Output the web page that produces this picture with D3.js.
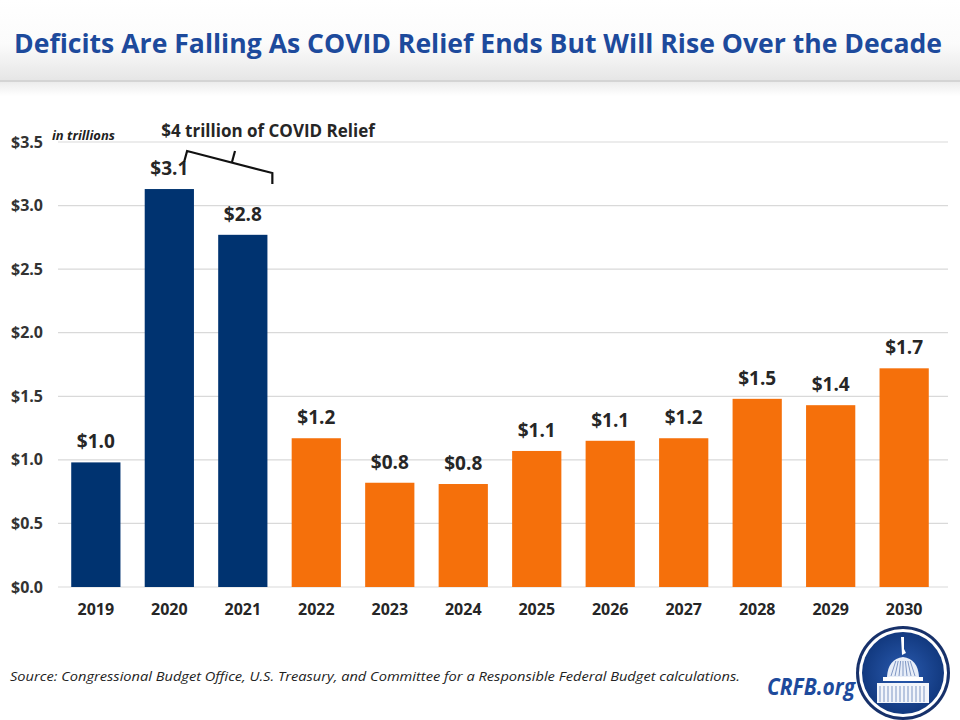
<!DOCTYPE html>
<html>
<head>
<meta charset="utf-8">
<script src="https://cdn.jsdelivr.net/npm/d3@7"></script>
<style>
  body { margin: 0; background: #fff; }
  svg { display: block; font-family: "Open Sans", "Noto Sans", sans-serif; }
</style>
</head>
<body>
<svg id="chart" width="960" height="720"></svg>
<script>
// chart data
var years = ["2019", "2020", "2021", "2022", "2023", "2024", "2025", "2026", "2027", "2028", "2029", "2030"];
var deficits = [0.98, 3.13, 2.77, 1.17, 0.82, 0.81, 1.07, 1.15, 1.17, 1.48, 1.43, 1.72];
var valueLabels = ["$1.0", "$3.1", "$2.8", "$1.2", "$0.8", "$0.8", "$1.1", "$1.1", "$1.2", "$1.5", "$1.4", "$1.7"];
var covidYears = ["2019", "2020", "2021"];
var yTicks = [0, 0.5, 1, 1.5, 2, 2.5, 3, 3.5];

var svg = d3.select("#chart");
var defs = svg.append("defs");

/*
 *** header band with a soft grey gradient
 */
var hg = defs.append("linearGradient").attr("id", "headGrad").attr("x1", 0).attr("y1", 0).attr("x2", 0).attr("y2", 1);
hg.append("stop").attr("offset", "0%").attr("stop-color", "#ffffff");
hg.append("stop").attr("offset", "55%").attr("stop-color", "#fbfbfb");
hg.append("stop").attr("offset", "100%").attr("stop-color", "#e6e6e6");
var sg = defs.append("linearGradient").attr("id", "shadowGrad").attr("x1", 0).attr("y1", 0).attr("x2", 0).attr("y2", 1);
sg.append("stop").attr("offset", "0%").attr("stop-color", "#ececec");
sg.append("stop").attr("offset", "100%").attr("stop-color", "#ffffff");

svg.append("rect").attr("x", 0).attr("y", 0).attr("width", 960).attr("height", 80).attr("fill", "url(#headGrad)");
svg.append("rect").attr("x", 0).attr("y", 80).attr("width", 960).attr("height", 2).attr("fill", "#d4d4d4");
svg.append("rect").attr("x", 0).attr("y", 82).attr("width", 960).attr("height", 14).attr("fill", "url(#shadowGrad)");

svg.append("text")
    .attr("x", 478).attr("y", 53)
    .attr("text-anchor", "middle")
    .attr("font-size", 27).attr("font-weight", "bold")
    .attr("fill", "#1d4a9c")
    .attr("textLength", 928).attr("lengthAdjust", "spacingAndGlyphs")
    .text("Deficits Are Falling As COVID Relief Ends But Will Rise Over the Decade");

/*
 *** scales and axes
 */
var x = d3.scaleBand().domain(years).range([58, 942]).paddingInner(0.33).paddingOuter(0.18);
var y = d3.scaleLinear().domain([0, 3.5]).range([587, 142]);

var grid = svg.append("g");
grid.selectAll("line").data(yTicks).enter().append("line")
    .attr("x1", 58).attr("x2", 948)
    .attr("y1", function(d){ return y(d); })
    .attr("y2", function(d){ return y(d); })
    .attr("stroke", "#d9d9d9").attr("stroke-width", 1.2);

var yAxis = svg.append("g")
    .attr("transform", "translate(48,0)")
    .call(d3.axisLeft(y).tickValues(yTicks).tickSize(0).tickPadding(5)
        .tickFormat(function(d){ return "$" + d3.format(".1f")(d); }));
yAxis.select(".domain").remove();
yAxis.selectAll("text")
    .attr("font-family", "'Open Sans', sans-serif")
    .attr("font-size", 16).attr("font-weight", "bold").attr("fill", "#333");

var xAxis = svg.append("g")
    .attr("transform", "translate(0,587)")
    .call(d3.axisBottom(x).tickSize(0).tickPadding(17));
xAxis.select(".domain").remove();
xAxis.selectAll("text")
    .attr("font-family", "'Open Sans', sans-serif")
    .attr("font-size", 16).attr("font-weight", "bold").attr("fill", "#262626");

/*
 *** bars and value labels
 */
var rows = years.map(function(yr, i){ return {year: yr, value: deficits[i], label: valueLabels[i]}; });

svg.append("g").selectAll("rect").data(rows).enter().append("rect")
    .attr("x", function(d){ return x(d.year); })
    .attr("width", x.bandwidth())
    .attr("y", function(d){ return y(d.value); })
    .attr("height", function(d){ return y(0) - y(d.value); })
    .attr("fill", function(d){ return covidYears.indexOf(d.year) >= 0 ? "#003370" : "#f5700b"; });

svg.append("g").selectAll("text").data(rows).enter().append("text")
    .attr("x", function(d){ return x(d.year) + x.bandwidth()/2; })
    .attr("y", function(d){ return y(d.value) - 14; })
    .attr("text-anchor", "middle")
    .attr("font-size", 19).attr("font-weight", "bold").attr("fill", "#262626")
    .text(function(d){ return d.label; });

svg.append("text")
    .attr("x", 52).attr("y", 140)
    .attr("font-size", 13).attr("font-style", "italic").attr("font-weight", "bold").attr("fill", "#222")
    .text("in trillions");

/*
 *** COVID relief bracket
 */
var bx0 = x("2020") + x.bandwidth()*0.8, bx1 = x("2021") + x.bandwidth()*1.1;
svg.append("path")
    .attr("d", "M" + bx0 + "," + 162 + "L" + (bx0+3) + "," + 151 + "L" + bx1 + "," + 173 + "L" + bx1 + "," + 184)
    .attr("fill", "none").attr("stroke", "#111").attr("stroke-width", 2.2);
svg.append("path")
    .attr("d", "M" + 232 + "," + 162 + "L" + 235 + "," + 151)
    .attr("fill", "none").attr("stroke", "#111").attr("stroke-width", 2.2);

svg.append("text")
    .attr("x", 268).attr("y", 137)
    .attr("text-anchor", "middle")
    .attr("font-size", 17).attr("font-weight", "bold").attr("fill", "#262626")
    .text("$4 trillion  of COVID Relief");

/*
 *** footer: source, site name and logo
 */
svg.append("text")
    .attr("x", 10).attr("y", 681)
    .attr("font-size", 13).attr("font-style", "italic").attr("fill", "#222")
    .attr("textLength", 730).attr("lengthAdjust", "spacingAndGlyphs")
    .text("Source: Congressional Budget Office, U.S. Treasury, and Committee for a Responsible Federal Budget calculations.");

svg.append("text")
    .attr("x", 767).attr("y", 695)
    .attr("font-size", 24).attr("font-style", "italic").attr("font-weight", "bold").attr("fill", "#1d4a9c")
    .attr("textLength", 88).attr("lengthAdjust", "spacingAndGlyphs")
    .text("CRFB.org");

var lg = defs.append("radialGradient").attr("id", "logoGrad");
lg.append("stop").attr("offset", "0%").attr("stop-color", "#2a5bb0");
lg.append("stop").attr("offset", "100%").attr("stop-color", "#12397f");

var logo = svg.append("g").attr("transform", "translate(903,673)");
logo.append("circle").attr("r", 47).attr("fill", "#17316a");
logo.append("circle").attr("r", 44).attr("fill", "#ffffff");
logo.append("circle").attr("r", 41).attr("fill", "url(#logoGrad)");
// simplified capitol dome
logo.append("path").attr("d", "M-2,-36 L1,-36 L1,-24 L3,-20 L-1,-18 Z").attr("fill", "#fff");
logo.append("path").attr("d", "M-16,4 Q-15,-14 0,-16 Q15,-14 16,4 Z").attr("fill", "#e8eef8");
logo.append("rect").attr("x", -20).attr("y", 4).attr("width", 40).attr("height", 4).attr("fill", "#fff");
logo.append("rect").attr("x", -26).attr("y", 10).attr("width", 52).attr("height", 20).attr("fill", "#f2f5fb");
var cols = d3.range(-23, 24, 4);
logo.selectAll(".col").data(cols).enter().append("line")
    .attr("x1", function(d){ return d; }).attr("x2", function(d){ return d; })
    .attr("y1", 13).attr("y2", 29)
    .attr("stroke", "#7f97c4").attr("stroke-width", 1);
logo.selectAll(".rib").data(d3.range(-12, 13, 4)).enter().append("line")
    .attr("x1", function(d){ return d; }).attr("x2", function(d){ return d*0.6; })
    .attr("y1", 3).attr("y2", -12)
    .attr("stroke", "#7f97c4").attr("stroke-width", 1);
</script>
</body>
</html>
